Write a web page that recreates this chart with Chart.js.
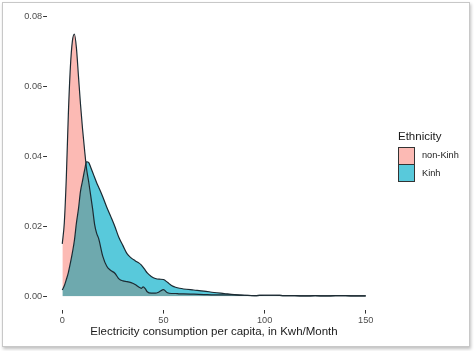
<!DOCTYPE html>
<html>
<head>
<meta charset="utf-8">
<script src="https://cdn.jsdelivr.net/npm/chart.js@4.4.1/dist/chart.umd.min.js"></script>
<style>
    body { margin: 0; background: #fff; font-family: "Liberation Sans", Arial, sans-serif; }
    #wrap { position: relative; width: 474px; height: 351px; }
    #frame {
        position: absolute; left: 2px; top: 2px; width: 466px; height: 343px;
        border: 1px solid #c8c8c8; box-shadow: 1px 2px 3px rgba(0, 0, 0, 0.25);
        pointer-events: none;
    }
    .lg-title { position: absolute; left: 398px; top: 129px; font-size: 11.5px; line-height: 14px; color: #1a1a1a; }
    .lg-box { position: absolute; left: 398px; width: 17px; height: 18px; box-sizing: border-box; border: 1px solid #333; }
    .lg-label { position: absolute; left: 422px; font-size: 9.2px; line-height: 11px; color: #1a1a1a; }
</style>
</head>
<body>
<div id="wrap">
    <canvas id="densityChart" width="474" height="351"></canvas>
    <div id="frame"></div>
    <div class="lg-title">Ethnicity</div>
    <div class="lg-box" id="box-non" style="top:147px"></div>
    <div class="lg-box" id="box-kinh" style="top:164px"></div>
    <div class="lg-label" style="top:150px">non-Kinh</div>
    <div class="lg-label" style="top:168px">Kinh</div>
</div>
<script>
// consumption grid (Kwh/Month)
const xs = [0, 1, 2, 3, 4, 5, 6, 7, 8, 9, 10, 11, 12, 13, 14, 15, 16, 17, 18, 20, 22, 24, 26, 28, 30,
    32, 34, 36, 38, 39, 40, 41, 42, 44, 46, 48, 50, 52, 54, 56, 58, 60, 65, 70, 75, 80, 85, 90, 95,
    100, 105, 110, 115, 120, 125, 130, 135, 140, 145, 150];

// density estimates
const nonKinh = [0.0150, 0.0210, 0.0340, 0.0520, 0.0655, 0.0730, 0.0750, 0.0710, 0.0630, 0.0550,
    0.0480, 0.0420, 0.0365, 0.0330, 0.0290, 0.0250, 0.0205, 0.0180, 0.0165, 0.0115, 0.0086, 0.0074,
    0.0066, 0.0050, 0.0044, 0.0042, 0.0039, 0.0034, 0.0026, 0.0023, 0.0027, 0.0022, 0.0013, 0.0009,
    0.0009, 0.0013, 0.0019, 0.0010, 0.0008, 0.0008, 0.0007, 0.0007, 0.0006, 0.0005, 0.0004, 0.0004,
    0.0004, 0.0003, 0.0002, 0.0003, 0.0003, 0.0002, 0.0002, 0.0001, 0.0002, 0.0001, 0.0002, 0.0002,
    0.0001, 0.0001];

const kinh = [0.0018, 0.0030, 0.0048, 0.0068, 0.0095, 0.0125, 0.0160, 0.0210, 0.0250, 0.0300,
    0.0330, 0.0360, 0.0385, 0.0383, 0.0370, 0.0355, 0.0340, 0.0325, 0.0312, 0.0285, 0.0255, 0.0228,
    0.0200, 0.0168, 0.0145, 0.0122, 0.0110, 0.0102, 0.0095, 0.0090, 0.0083, 0.0075, 0.0067, 0.0057,
    0.0051, 0.0049, 0.0048, 0.0040, 0.0031, 0.0026, 0.0023, 0.0021, 0.0018, 0.0015, 0.0011, 0.0008,
    0.0005, 0.0003, 0.0002, 0.0003, 0.0003, 0.0002, 0.0002, 0.0001, 0.0002, 0.0001, 0.0002, 0.0002,
    0.0001, 0.0001];

const xTicks = [0, 50, 100, 150];
const yTicks = [0, 0.02, 0.04, 0.06, 0.08];

const pink = '#FCBAB4';
const cyan = '#58C9DB';
const overlap = '#6EA9AE';
const lineColor = '#1c2b33';

document.getElementById('box-non').style.background = pink;
document.getElementById('box-kinh').style.background = cyan;

const toPoints = (ys) => xs.map((x, i) => ({ x, y: ys[i] }));

const tickFont = { family: 'Liberation Sans', size: 9.2 };

new Chart(document.getElementById('densityChart'), {
    type: 'line',
    data: {
        datasets: [
            {
                label: 'non-Kinh',
                data: toPoints(nonKinh),
                borderColor: lineColor,
                borderWidth: 1.2,
                pointRadius: 0,
                cubicInterpolationMode: 'monotone',
                fill: { target: 1, above: pink, below: cyan },
                order: 1,
            },
            {
                label: 'Kinh',
                data: toPoints(kinh),
                borderColor: lineColor,
                borderWidth: 1.2,
                pointRadius: 0,
                cubicInterpolationMode: 'monotone',
                fill: { target: 'origin', above: overlap },
                order: 2,
            },
        ],
    },
    options: {
        responsive: false,
        animation: false,
        devicePixelRatio: 1,
        layout: { padding: { left: 0, top: 11.1, right: 93.1, bottom: 11.8 } },
        scales: {
            x: {
                type: 'linear',
                min: -7.5,
                max: 157.5,
                afterBuildTicks: (scale) => { scale.ticks = xTicks.map((v) => ({ value: v })); },
                afterFit: (scale) => { scale.height = 29.6; },
                grid: { drawOnChartArea: false, drawTicks: true, tickLength: 4, tickColor: '#333' },
                border: { display: false },
                ticks: { color: '#4d4d4d', font: tickFont, padding: 1, maxRotation: 0 },
                title: {
                    display: true,
                    text: 'Electricity consumption per capita, in Kwh/Month',
                    color: '#1a1a1a',
                    font: { family: 'Liberation Sans', size: 11.5 },
                    padding: { top: 0, bottom: 0 },
                },
            },
            y: {
                min: -0.0038,
                max: 0.0816,
                afterBuildTicks: (scale) => { scale.ticks = yTicks.map((v) => ({ value: v })); },
                afterFit: (scale) => { scale.width = 47.1; },
                grid: { drawOnChartArea: false, drawTicks: true, tickLength: 4, tickColor: '#333' },
                border: { display: false },
                ticks: {
                    color: '#4d4d4d',
                    font: tickFont,
                    padding: 1,
                    callback: (value) => value.toFixed(2),
                },
            },
        },
        plugins: {
            legend: { display: false },
            tooltip: { enabled: false },
            filler: { drawTime: 'beforeDatasetsDraw' },
        },
    },
});
</script>
</body>
</html>
